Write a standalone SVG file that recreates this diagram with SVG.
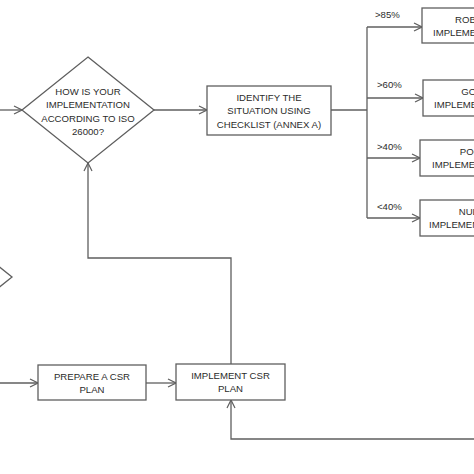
<svg xmlns="http://www.w3.org/2000/svg" width="474" height="474" viewBox="0 0 474 474">
<defs>
<style>
.node{fill:#fff;stroke:#5f5f5f;stroke-width:1.3}
.edge{fill:none;stroke:#5f5f5f;stroke-width:1.3}
text{font-family:"Liberation Sans",Arial,sans-serif;font-size:9.6px;fill:#2b2b2b;text-anchor:middle}
.lbl{text-anchor:start}
</style>
<marker id="arr" markerUnits="userSpaceOnUse" markerWidth="10" markerHeight="10" viewBox="0 0 10 10" refX="9" refY="5" orient="auto">
<path d="M1,1 L9,5 L1,9" fill="none" stroke="#5f5f5f" stroke-width="1.2"/>
</marker>
</defs>
<rect width="474" height="474" fill="#fff"/>
<g id="connectors">
<path class="edge" d="M0,110 H22" marker-end="url(#arr)"/>
<path class="edge" d="M154,110 H207" marker-end="url(#arr)"/>
<path class="edge" d="M331,110 H367"/>
<path class="edge" d="M367,27 V218"/>
<path class="edge" d="M367,27 H422" marker-end="url(#arr)"/>
<path class="edge" d="M367,98 H423" marker-end="url(#arr)"/>
<path class="edge" d="M367,158 H420" marker-end="url(#arr)"/>
<path class="edge" d="M367,218 H420" marker-end="url(#arr)"/>
<path class="edge" d="M0,383 H38" marker-end="url(#arr)"/>
<path class="edge" d="M146,383 H176" marker-end="url(#arr)"/>
<path class="edge" d="M231,364 V258 H88 V163" marker-end="url(#arr)"/>
<path class="edge" d="M474,439 H231 V400" marker-end="url(#arr)"/>
<text class="lbl" x="375" y="17.5">&gt;85%</text>
<text class="lbl" x="377" y="87.5">&gt;60%</text>
<text class="lbl" x="377" y="149.5">&gt;40%</text>
<text class="lbl" x="377" y="209.5">&lt;40%</text>
</g>
<g id="decision">
<polygon class="node" points="88,57 154,110 88,163 22,110"/>
<text x="88" y="94.5">HOW IS YOUR</text>
<text x="88" y="108">IMPLEMENTATION</text>
<text x="88" y="121.5">ACCORDING TO ISO</text>
<text x="88" y="135">26000?</text>
</g>
<g id="identify">
<rect class="node" x="207" y="86" width="124" height="49"/>
<text x="269" y="100.5">IDENTIFY THE</text>
<text x="269" y="114">SITUATION USING</text>
<text x="269" y="127.5">CHECKLIST (ANNEX A)</text>
</g>
<g id="robust">
<rect class="node" x="422" y="8" width="106" height="35"/>
<text x="475" y="22.5">ROBUST</text>
<text x="475" y="35.5">IMPLEMENTATION</text>
</g>
<g id="good">
<rect class="node" x="423" y="80" width="106" height="36"/>
<text x="476" y="95">GOOD</text>
<text x="476" y="108">IMPLEMENTATION</text>
</g>
<g id="poor">
<rect class="node" x="420" y="140" width="106" height="36"/>
<text x="474" y="155">POOR</text>
<text x="474" y="168">IMPLEMENTATION</text>
</g>
<g id="null">
<rect class="node" x="420" y="200" width="106" height="36"/>
<text x="471" y="215">NULL</text>
<text x="471" y="228">IMPLEMENTATION</text>
</g>
<g id="left-decision">
<polygon class="node" points="-120,277 -54,224 12,277 -54,330"/>
</g>
<g id="prepare">
<rect class="node" x="38" y="365" width="108" height="35"/>
<text x="92" y="379.5">PREPARE A CSR</text>
<text x="92" y="392.5">PLAN</text>
</g>
<g id="implement">
<rect class="node" x="176" y="364" width="109" height="36"/>
<text x="230.5" y="379">IMPLEMENT CSR</text>
<text x="230.5" y="392">PLAN</text>
</g>
</svg>
